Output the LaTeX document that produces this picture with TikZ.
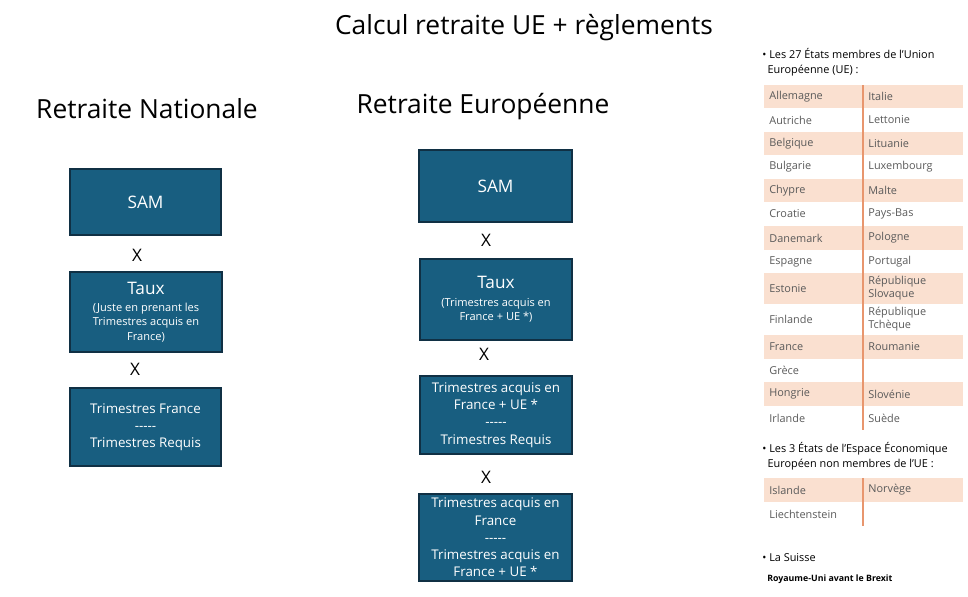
\documentclass[tikz,border=0pt]{standalone}
\usepackage{fontspec}
\setmainfont{Open Sans}
\newfontfamily\tabfont{Open Sans}
\usepackage{xcolor}
\definecolor{accent}{RGB}{24,94,128}
\definecolor{accentdark}{RGB}{16,48,68}
\definecolor{peach}{RGB}{250,224,208}
\definecolor{rulecol}{RGB}{232,150,110}
\definecolor{tabtext}{RGB}{90,90,90}
\usetikzlibrary{positioning}
\tikzset{
  calcbox/.style={draw=accentdark,fill=accent,line width=1pt,text=white,%
    align=center,inner sep=1pt,font=\fontsize{7.6}{9.8}\selectfont},
  times/.style={font=\fontsize{9.8}{11}\selectfont},
  heading/.style={font=\fontsize{15}{18}\selectfont},
  band/.style={fill=peach,draw=none},
  cell/.style={anchor=west,text=tabtext,inner sep=0pt,align=left,%
    font=\tabfont\fontsize{6.2}{7.4}\selectfont},
  tabhead/.style={anchor=west,inner sep=0pt,align=left,text=black,%
    font=\tabfont\fontsize{6.2}{8.6}\selectfont},
  sep/.style={draw=rulecol,line width=0.7pt},
}
\newcommand{\bigtxt}{\fontsize{9.8}{11.5}\selectfont}
\newcommand{\smalltxt}{\fontsize{6.3}{7.8}\selectfont}
\newcommand{\dashes}{-{}-{}-{}-{}-}

\begin{document}
\begin{tikzpicture}[x=0.02cm,y=-0.02cm]
\useasboundingbox (0,0) rectangle (968,596);
\node[heading] (title) at (524,28) {Calcul retraite UE + règlements};
% retraite nationale
\node[heading] (natH) at (147,109) {Retraite Nationale};
\node[calcbox,minimum width=3.02cm,minimum height=1.32cm] (natSam) at (145.5,202) {\bigtxt SAM};
\node[times] (natX1) at (137,255) {X};
\node[calcbox,minimum width=3.04cm,minimum height=1.6cm] (natTaux) at (146,312)
  {\bigtxt Taux\\\smalltxt (Juste en prenant les\\[-1.6pt]\smalltxt Trimestres acquis en\\[-1.6pt]\smalltxt France)};
\node[times] (natX2) at (135,369) {X};
\node[calcbox,minimum width=3.02cm,minimum height=1.56cm] (natTrim) at (145.5,427)
  {Trimestres France\\\dashes\\Trimestres Requis};
% retraite europeenne
\node[heading] (euH) at (483,107) {Retraite Européenne};
\node[calcbox,minimum width=3.06cm,minimum height=1.44cm] (euSam) at (495.5,186) {\bigtxt SAM};
\node[times] (euX1) at (486,240) {X};
\node[calcbox,minimum width=3.04cm,minimum height=1.62cm] (euTaux) at (496,299.5)
  {\bigtxt Taux\\\smalltxt (Trimestres acquis en\\[-1.6pt]\smalltxt France + UE *)};
\node[times] (euX2) at (484,354) {X};
\node[calcbox,minimum width=3.04cm,minimum height=1.56cm] (euTrim) at (496,415)
  {Trimestres acquis en\\France + UE *\\\dashes\\Trimestres Requis};
\node[times] (euX3) at (486,477) {X};
\node[calcbox,minimum width=3.06cm,minimum height=1.74cm] (euProrata) at (495.5,537.5)
  {Trimestres acquis en\\France\\\dashes\\Trimestres acquis en\\France + UE *};
% tableau des pays
\node[tabhead] (ueH) at (762,62) {• Les 27 États membres de l’Union\\\hspace*{0.9ex}Européenne (UE) :};
\fill[band] (764,85) rectangle (963,108);
\fill[band] (764,132) rectangle (963,155);
\fill[band] (764,179) rectangle (963,202);
\fill[band] (764,226) rectangle (963,250);
\fill[band] (764,273) rectangle (963,304);
\fill[band] (764,335) rectangle (963,359);
\fill[band] (764,382) rectangle (963,406);
\draw[sep] (863,85) -- (863,430);
\node[cell] at (769,96.5) {Allemagne};   \node[cell] at (868,96.5) {Italie};
\node[cell] at (769,120) {Autriche};     \node[cell] at (868,120) {Lettonie};
\node[cell] at (769,143.5) {Belgique};   \node[cell] at (868,143.5) {Lituanie};
\node[cell] at (769,167) {Bulgarie};     \node[cell] at (868,167) {Luxembourg};
\node[cell] at (769,190.5) {Chypre};     \node[cell] at (868,190.5) {Malte};
\node[cell] at (769,214) {Croatie};      \node[cell] at (868,214) {Pays-Bas};
\node[cell] at (769,238) {Danemark};     \node[cell] at (868,238) {Pologne};
\node[cell] at (769,261.5) {Espagne};    \node[cell] at (868,261.5) {Portugal};
\node[cell] at (769,288.5) {Estonie};    \node[cell] at (868,288.5) {République\\Slovaque};
\node[cell] at (769,319.5) {Finlande};   \node[cell] at (868,319.5) {République\\Tchèque};
\node[cell] at (769,347) {France};       \node[cell] at (868,347) {Roumanie};
\node[cell] at (769,370.5) {Grèce};
\node[cell] at (769,394) {Hongrie};      \node[cell] at (868,394) {Slovénie};
\node[cell] at (769,418) {Irlande};      \node[cell] at (868,418) {Suède};
% espace economique europeen
\node[tabhead] (eeeH) at (762,456) {• Les 3 États de l’Espace Économique\\\hspace*{0.9ex}Européen non membres de l’UE :};
\fill[band] (764,478) rectangle (963,502);
\draw[sep] (863,478) -- (863,526);
\node[cell] at (769,490) {Islande};      \node[cell] at (868,490) {Norvège};
\node[cell] at (769,514) {Liechtenstein};
\node[tabhead] (suisse) at (762,558) {• La Suisse};
\node[tabhead,font=\tabfont\bfseries\fontsize{5}{6}\selectfont] (ru) at (767,579) {Royaume-Uni avant le Brexit};
\end{tikzpicture}
\end{document}
